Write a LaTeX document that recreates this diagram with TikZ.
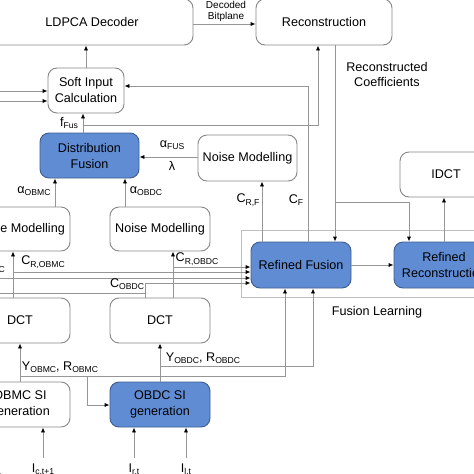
\documentclass[tikz,border=0pt]{standalone}
\usepackage{fontspec}
\setmainfont{Liberation Sans}
\usetikzlibrary{arrows.meta}
\definecolor{linegray}{RGB}{150,150,150}
\definecolor{boxgray}{RGB}{135,135,135}
\definecolor{blueF}{RGB}{96,140,212}
\definecolor{blueD}{RGB}{62,92,142}
\definecolor{framegray}{RGB}{190,190,190}
\newcommand{\sbs}[1]{\raisebox{-0.35ex}{\fontsize{8.6}{9}\selectfont #1}}
\newcommand{\fsmain}{\fontsize{12.6}{16}\selectfont}
\begin{document}
\begin{tikzpicture}[x=1pt,y=-1pt,
  box/.style={draw=boxgray, line width=0.9pt, rounded corners=9pt, fill=white, align=center, font=\fsmain, inner sep=0pt},
  bluebox/.style={box, fill=blueF, draw=blueD},
  ln/.style={draw=linegray, line width=0.9pt},
  arr/.style={ln, -{Latex[length=5pt,width=4.2pt,color=black]}},
  lbl/.style={font=\fsmain, inner sep=0pt, text=black}
]
\useasboundingbox (0,0) rectangle (474,474);
\clip (0,0) rectangle (474,474);
\fill[white] (0,0) rectangle (474,474);

% Fusion learning frame
\draw[draw=framegray, line width=1pt] (241,230) rectangle (490,297);
\node[lbl] (flabel) at (377,312) {Fusion Learning};

% nodes
\node[box, minimum width=202pt, minimum height=46pt] (ldpca) at (92,22) {LDPCA Decoder};
\node[box, minimum width=136pt, minimum height=46pt] (recon) at (324,22) {Reconstruction};
\node[box, minimum width=76pt, minimum height=45pt] (soft) at (86,90.5) {Soft Input\\Calculation};
\node[bluebox, minimum width=99pt, minimum height=45pt] (df) at (89.5,155.5) {Distribution\\Fusion};
\node[box, minimum width=99pt, minimum height=46pt] (nmf) at (247.5,158) {Noise Modelling};
\node[box, minimum width=100pt, minimum height=44pt] (nm1) at (20,229) {Noise Modelling};
\node[box, minimum width=100pt, minimum height=44pt] (nm2) at (160,229) {Noise Modelling};
\node[box, minimum width=100pt, minimum height=45pt] (dct1) at (20,320.5) {DCT};
\node[box, minimum width=100pt, minimum height=45pt] (dct2) at (160,320.5) {DCT};
\node[box, minimum width=100pt, minimum height=45pt] (si1) at (20,404.5) {OBMC SI\\generation};
\node[bluebox, minimum width=100pt, minimum height=45pt] (si2) at (160,404.5) {OBDC SI\\generation};
\node[bluebox, minimum width=100pt, minimum height=46pt] (rf) at (301,265) {Refined Fusion};
\node[bluebox, minimum width=100pt, minimum height=46pt] (rr) at (444,265) {Refined\\Reconstruction};
\node[box, minimum width=92pt, minimum height=45pt] (idct) at (446,174.5) {IDCT};

% coordinates
\coordinate (in1) at (-5,91);
\coordinate (in2) at (-5,101);
\coordinate (jfus) at (83,125);
\coordinate (jrc) at (335,202);
\coordinate (jk) at (13,272);
\coordinate (jl) at (173,267);
\coordinate (lm) at (-5,278);
\coordinate (lnn) at (-5,293);
\coordinate (jn) at (145,293);
\coordinate (jy1) at (20,376);
\coordinate (jy1b) at (87,376);
\coordinate (jy2) at (160,366);
\coordinate (icm) at (-9,458);
\coordinate (ic1) at (43,458);
\coordinate (irt) at (134,458);
\coordinate (ilt) at (186,458);

% top
\draw[arr] (ldpca.east |- 0,24) -- (recon.west |- 0,24);
\node[font=\fontsize{10}{11.5}\selectfont, align=center, inner sep=0pt] (ldec) at (226,11.5) {Decoded\\Bitplane};
\draw[arr] (soft.north) -- (soft.north |- ldpca.south);
\draw[arr] (in1) -- (in1 -| soft.west);
\draw[arr] (in2) -- (in2 -| soft.west);
% C_F
\draw[arr] (rf.north -| 308,0) -- (308,86) -- (soft.east |- 0,86);
% f_Fus
\draw[arr] (df.north -| 83,0) -- (soft.south -| 83,0);
\draw[arr] (jfus) -- (318,125) -- (recon.south -| 318,0);
% reconstructed coefficients
\draw[arr] (recon.south -| 335,0) -- (rf.north -| 335,0);
\draw[arr] (jrc) -- (409,202) -- (rr.north -| 409,0);
\node[lbl, align=center, font=\fontsize{12.6}{15.5}\selectfont] (lrc) at (387,74.5) {Reconstructed\\Coefficients};
% C_R,F
\draw[arr] (rf.north -| 262,0) -- (nmf.south -| 262,0);
% fus noise modelling -> df
\draw[arr] (nmf.west |- 0,157) -- (df.east |- 0,157);
% alphas
\draw[arr] (nm1.north -| 55,0) -- (df.south -| 55,0);
\draw[arr] (nm2.north -| 125,0) -- (df.south -| 125,0);
% C_R,OBMC
\draw[arr] (dct1.north -| 13,0) -- (nm1.south -| 13,0);
\draw[arr] (jk) -- (rf.west |- 0,272);
% C_R,OBDC
\draw[arr] (dct2.north -| 173,0) -- (nm2.south -| 173,0);
\draw[arr] (jl) -- (rf.west |- 0,267);
% line from left
\draw[arr] (lm) -- (rf.west |- 0,278);
% C_OBDC
\draw[arr] (dct2.north -| 145,0) -- (145,283) -- (rf.west |- 0,283);
\draw[ln] (lnn) -- (jn);
% RF -> RR -> IDCT
\draw[arr] (rf.east) -- (rr.west);
\draw[arr] (rr.north) -- (idct.south -| rr.north);
% Y OBMC
\draw[arr] (si1.north) -- (dct1.south);
\draw[arr] (jy1) -- (285,376) -- (rf.south -| 285,0);
\draw[arr] (jy1b) -- (87,405) -- (si2.west |- 0,405);
% Y OBDC
\draw[arr] (si2.north) -- (dct2.south);
\draw[arr] (jy2) -- (313,366) -- (rf.south -| 313,0);
% inputs
\draw[arr] (icm) -- (si1.south -| icm);
\draw[arr] (ic1) -- (si1.south -| ic1);
\draw[arr] (irt) -- (si2.south -| irt);
\draw[arr] (ilt) -- (si2.south -| ilt);
\node[lbl, anchor=base] (licm) at (-9,472) {I\sbs{c,t-1}};
\node[lbl, anchor=base] (lic1) at (43,472) {I\sbs{c,t+1}};
\node[lbl, anchor=base] (lirt) at (134,472) {I\sbs{r,t}};
\node[lbl, anchor=base] (lilt) at (186,472) {I\sbs{l,t}};

% labels
\node[lbl] (la1) at (34,191) {α\sbs{OBMC}};
\node[lbl] (la2) at (146,191) {α\sbs{OBDC}};
\node[lbl] (lff) at (69,123) {f\sbs{Fus}};
\node[lbl] (laf) at (172,145) {α\sbs{FUS}};
\node[lbl] (llam) at (172,166) {λ};
\node[lbl] (lcrf) at (248,200) {C\sbs{R,F}};
\node[lbl] (lcf) at (296,200) {C\sbs{F}};
\node[lbl] (lcr1) at (43,262) {C\sbs{R,OBMC}};
\node[lbl] (lcr2) at (197,259) {C\sbs{R,OBDC}};
\node[lbl] (lco2) at (127,284) {C\sbs{OBDC}};
\node[lbl, anchor=east] (lco1) at (5,267) {C\sbs{OBMC}};
\node[lbl] (ly1) at (60,367) {Y\sbs{OBMC}, R\sbs{OBMC}};
\node[lbl] (ly2) at (203,358) {Y\sbs{OBDC}, R\sbs{OBDC}};
\end{tikzpicture}
\end{document}
